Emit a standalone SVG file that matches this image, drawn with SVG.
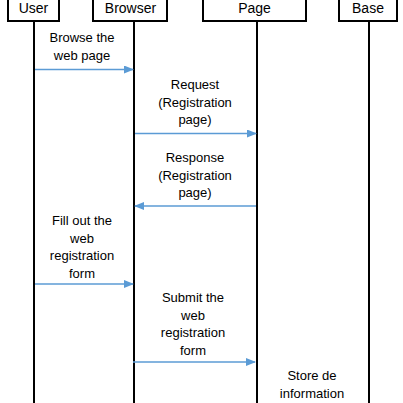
<svg xmlns="http://www.w3.org/2000/svg" width="403" height="403" viewBox="0 0 403 403">
<style>
.box{fill:#fff;stroke:#000;stroke-width:2}
.life{stroke:#000;stroke-width:2}
.msg{stroke:#5B9BD5;stroke-width:1.3;fill:none}
text{font-family:"Liberation Sans",Arial,sans-serif;font-size:13px;fill:#000;text-anchor:middle}
.hd{font-size:14px}
</style>
<defs>
<marker id="ah" markerWidth="10" markerHeight="8" refX="9" refY="4" orient="auto" markerUnits="userSpaceOnUse">
<path d="M0,0 L10,4 L0,8 Z" fill="#5B9BD5"/>
</marker>
</defs>
<g id="lifelines">
<line class="life" x1="34" y1="21" x2="34" y2="403"/>
<line class="life" x1="134" y1="21" x2="134" y2="403"/>
<line class="life" x1="257" y1="21" x2="257" y2="403"/>
<line class="life" x1="369" y1="21" x2="369" y2="403"/>
</g>
<g id="user"><rect class="box" x="8" y="-3" width="51" height="24"/><text class="hd" x="33.5" y="13">User</text></g>
<g id="browser"><rect class="box" x="93" y="-3" width="74" height="24"/><text class="hd" x="130.5" y="13">Browser</text></g>
<g id="page"><rect class="box" x="203" y="-3" width="103" height="24"/><text class="hd" x="254.5" y="13">Page</text></g>
<g id="base"><rect class="box" x="339" y="-3" width="58" height="24"/><text class="hd" x="368" y="13">Base</text></g>
<g id="connectors">
<line class="msg" x1="35" y1="69.5" x2="133" y2="69.5" marker-end="url(#ah)"/>
<line class="msg" x1="135" y1="133.5" x2="256" y2="133.5" marker-end="url(#ah)"/>
<line class="msg" x1="256" y1="206" x2="135" y2="206" marker-end="url(#ah)"/>
<line class="msg" x1="35" y1="284" x2="133" y2="284" marker-end="url(#ah)"/>
<line class="msg" x1="133" y1="362" x2="255" y2="362" marker-end="url(#ah)"/>
</g>
<g id="labels">
<text x="82" y="42">Browse the</text>
<text x="82" y="59.5">web page</text>
<text x="195" y="89">Request</text>
<text x="195" y="106.5">(Registration</text>
<text x="195" y="124">page)</text>
<text x="195" y="162">Response</text>
<text x="195" y="179.5">(Registration</text>
<text x="195" y="197">page)</text>
<text x="82" y="225">Fill out the</text>
<text x="82" y="242.5">web</text>
<text x="82" y="260">registration</text>
<text x="82" y="277.5">form</text>
<text x="193" y="302">Submit the</text>
<text x="193" y="319.5">web</text>
<text x="193" y="337">registration</text>
<text x="193" y="354.5">form</text>
<text x="312" y="380">Store de</text>
<text x="312" y="397.5">information</text>
</g>
</svg>
